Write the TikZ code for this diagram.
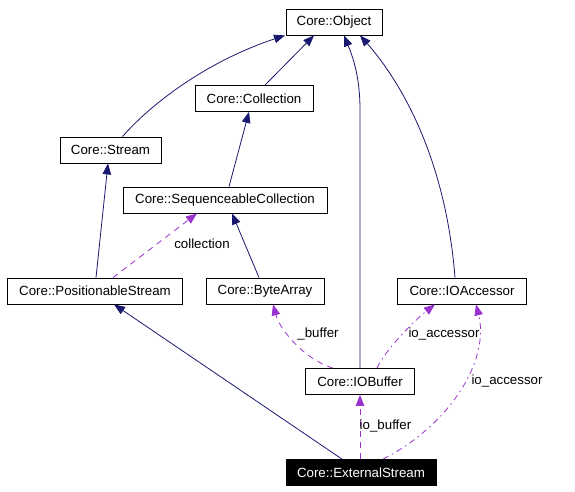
\documentclass[tikz,border=0pt]{standalone}
\usepackage{fontspec}
\setmainfont{Liberation Sans}
\usetikzlibrary{arrows.meta}
\definecolor{inhblue}{HTML}{191970}
\definecolor{usepurple}{HTML}{9A32CD}
\tikzset{
  cls/.style={draw=black, line width=0.8pt, fill=white, inner sep=0pt, minimum height=26pt, font=\fontsize{13.3}{16}\selectfont},
  clsmain/.style={cls, fill=black, text=white},
  inh/.style={draw=inhblue, line width=0.8pt, -{Triangle[length=11pt,width=8.5pt]}, inhblue},
  usedash/.style={draw=usepurple, line width=0.8pt, dash pattern=on 6pt off 5pt, -{Triangle[length=11pt,width=8.5pt]}, usepurple},
  usedot/.style={draw=usepurple, line width=0.8pt, dash pattern=on 6pt off 4pt on 1.5pt off 4pt, -{Triangle[length=11pt,width=8.5pt]}, usepurple},
  lbl/.style={inner sep=0pt, font=\fontsize{13.3}{16}\selectfont}
}
\begin{document}
\begin{tikzpicture}[x=1pt, y=-1pt]
\useasboundingbox[fill=white] (0,0) rectangle (575,492);
\node[cls, minimum width=96pt]  (obj)    at (334,22)   {Core::Object};
\node[cls, minimum width=118pt] (coll)   at (254,98.5) {Core::Collection};
\node[cls, minimum width=101pt] (stream) at (110.5,150) {Core::Stream};
\node[cls, minimum width=204pt] (seq)    at (225,200)  {Core::SequenceableCollection};
\node[cls, minimum width=175pt] (pos)    at (95,291) {Core::PositionableStream};
\node[cls, minimum width=118pt] (byte)   at (265,291) {Core::ByteArray};
\node[cls, minimum width=129pt] (ioacc)  at (462,291) {Core::IOAccessor};
\node[cls, minimum width=109pt] (iobuf)  at (360,381.5) {Core::IOBuffer};
\node[clsmain, minimum width=150pt] (ext) at (361,472.5) {Core::ExternalStream};

% inheritance
\draw[inh] ([xshift=12pt]stream.north) .. controls (150,105) and (205,62) .. ([xshift=-49pt]obj.south);
\draw[inh] ([xshift=11pt]coll.north) -- ([xshift=-20pt]obj.south);
\draw[inh] (iobuf.north) -- (360,110) .. controls (360,75) and (352,55) .. ([xshift=10pt]obj.south);
\draw[inh] ([xshift=-7pt]ioacc.north) .. controls (445,150) and (395,75) .. ([xshift=26pt]obj.south);
\draw[inh] ([xshift=4pt]seq.north) -- ([xshift=-5pt]coll.south);
\draw[inh] ([xshift=1pt]pos.north) -- ([xshift=-2.5pt]stream.south);
\draw[inh] ([xshift=-6pt]byte.north) -- ([xshift=7pt]seq.south);
\draw[inh] ([xshift=-19pt]ext.north) -- ([xshift=19pt]pos.south);

% usage
\draw[usedash] ([xshift=18pt]pos.north) -- ([xshift=-28pt]seq.south);
\draw[usedash] ([xshift=-27pt]iobuf.north) .. controls (305,360) and (280,330) .. ([xshift=8pt]byte.south);
\draw[usedot] ([xshift=17pt]iobuf.north) .. controls (385,350) and (415,320) .. ([xshift=-27pt]ioacc.south);
\draw[usedash] ([xshift=-1pt]ext.north) -- (iobuf.south);
\draw[usedot] ([xshift=22pt]ext.north) .. controls (450,425) and (490,360) .. ([xshift=14pt]ioacc.south);

% labels
\node[lbl] (l1) at (202,244) {collection};
\node[lbl] (l2) at (318,334) {\_buffer};
\node[lbl] (l3) at (444,334) {io\_accessor};
\node[lbl] (l4) at (385.5,426) {io\_buffer};
\node[lbl] (l5) at (507,381) {io\_accessor};
\end{tikzpicture}
\end{document}
